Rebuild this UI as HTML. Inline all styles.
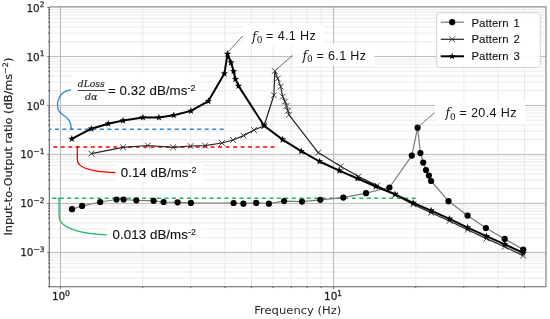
<!DOCTYPE html><html><head><meta charset="utf-8"><style>html,body{margin:0;padding:0;background:#fff;}svg{display:block}</style></head><body>
<svg width="550" height="319" viewBox="0 0 550 319">
<rect width="550" height="319" fill="#fff"/>
<path d="M49.3,286.70H546.0M49.3,278.07H546.0M49.3,271.95H546.0M49.3,267.20H546.0M49.3,263.32H546.0M49.3,260.04H546.0M49.3,257.20H546.0M49.3,254.69H546.0M49.3,237.70H546.0M49.3,229.07H546.0M49.3,222.95H546.0M49.3,218.20H546.0M49.3,214.32H546.0M49.3,211.04H546.0M49.3,208.20H546.0M49.3,205.69H546.0M49.3,188.70H546.0M49.3,180.07H546.0M49.3,173.95H546.0M49.3,169.20H546.0M49.3,165.32H546.0M49.3,162.04H546.0M49.3,159.20H546.0M49.3,156.69H546.0M49.3,139.70H546.0M49.3,131.07H546.0M49.3,124.95H546.0M49.3,120.20H546.0M49.3,116.32H546.0M49.3,113.04H546.0M49.3,110.20H546.0M49.3,107.69H546.0M49.3,90.70H546.0M49.3,82.07H546.0M49.3,75.95H546.0M49.3,71.20H546.0M49.3,67.32H546.0M49.3,64.04H546.0M49.3,61.20H546.0M49.3,58.69H546.0M49.3,41.70H546.0M49.3,33.07H546.0M49.3,26.95H546.0M49.3,22.20H546.0M49.3,18.32H546.0M49.3,15.04H546.0M49.3,12.20H546.0M49.3,9.69H546.0M142.71,6.9V286.8M190.80,6.9V286.8M224.92,6.9V286.8M251.39,6.9V286.8M273.01,6.9V286.8M291.30,6.9V286.8M307.13,6.9V286.8M321.10,6.9V286.8M415.81,6.9V286.8M463.90,6.9V286.8M498.02,6.9V286.8M524.49,6.9V286.8" stroke="#e8e8e8" stroke-width="0.9" fill="none"/>
<path d="M49.3,252.45H546.0M49.3,203.45H546.0M49.3,154.45H546.0M49.3,105.45H546.0M49.3,56.45H546.0M60.50,6.9V286.8M333.60,6.9V286.8" stroke="#b8b8b8" stroke-width="1" fill="none"/>
<rect x="71.5" y="73" width="128.9" height="28.5" fill="#fff"/>
<rect x="243" y="24.8" width="81" height="21.2" fill="#fff"/>
<rect x="292.8" y="44" width="81.69999999999999" height="21.200000000000003" fill="#fff"/>
<rect x="435" y="101.5" width="90" height="22.5" fill="#fff"/>
<rect x="115.8" y="163.7" width="86.8" height="18.600000000000023" fill="#fff"/>
<rect x="107.2" y="226" width="94.3" height="19.5" fill="#fff"/>
<path d="M49.3,129.3H223.9" stroke="#2b86d6" stroke-width="1.5" stroke-dasharray="4.0,3.49" stroke-dashoffset="1.88" fill="none"/>
<path d="M49.3,146.95H275.3" stroke="#ff0000" stroke-width="1.5" stroke-dasharray="4.0,3.49" stroke-dashoffset="3.49" fill="none"/>
<path d="M52.2,198.35H416.6" stroke="#1db964" stroke-width="1.5" stroke-dasharray="4.0,3.49" fill="none"/>
<path d="M71.2,90.2C62.5,90.4 57.3,97 57.5,106C57.8,113.5 63.5,114.5 67.5,118.5C70.5,121.5 71.2,125 71.2,129.3M69.6,129.3H73" stroke="#2b86d6" stroke-width="1.3" fill="none"/>
<path d="M77.3,146.9V159.5C77.3,168 92,172 115.3,172.6M75.7,146.9H79" stroke="#ff0000" stroke-width="1.3" fill="none"/>
<path d="M59.1,198.3V216C59.1,228 80,233.5 106.8,234.9M57.5,198.3H61" stroke="#1db964" stroke-width="1.3" fill="none"/>
<path d="M72.0,209.2 L82.1,205.9 L100.2,202.0 L116.5,199.5 L123.6,199.5 L136.3,200.3 L153.6,200.8 L163.6,202.0 L177.6,202.3 L190.9,202.9 L233.6,203.0 L243.4,203.7 L256.2,202.9 L268.9,203.7 L284.1,201.1 L302.0,201.6 L320.3,199.8 L343.3,197.6 L366.0,193.2 L389.4,187.5 L411.8,155.6 L417.6,127.7 L420.4,153.0 L423.2,162.6 L426.0,170.0 L428.9,175.6 L431.1,181.0 L448.5,201.2 L467.6,215.6 L485.9,228.1 L504.7,238.9 L523.2,249.6" stroke="#7a7a7a" stroke-width="1.2" fill="none" stroke-linejoin="round"/>
<g fill="#000"><circle cx="72" cy="209.2" r="3.1"/><circle cx="82.1" cy="205.9" r="3.1"/><circle cx="100.2" cy="202" r="3.1"/><circle cx="116.5" cy="199.5" r="3.1"/><circle cx="123.6" cy="199.5" r="3.1"/><circle cx="136.3" cy="200.3" r="3.1"/><circle cx="153.6" cy="200.8" r="3.1"/><circle cx="163.6" cy="202" r="3.1"/><circle cx="177.6" cy="202.3" r="3.1"/><circle cx="190.9" cy="202.9" r="3.1"/><circle cx="233.6" cy="203" r="3.1"/><circle cx="243.4" cy="203.7" r="3.1"/><circle cx="256.2" cy="202.9" r="3.1"/><circle cx="268.9" cy="203.7" r="3.1"/><circle cx="284.1" cy="201.1" r="3.1"/><circle cx="302" cy="201.6" r="3.1"/><circle cx="320.3" cy="199.8" r="3.1"/><circle cx="343.3" cy="197.6" r="3.1"/><circle cx="366" cy="193.2" r="3.1"/><circle cx="389.4" cy="187.5" r="3.1"/><circle cx="411.8" cy="155.6" r="3.1"/><circle cx="417.6" cy="127.7" r="3.1"/><circle cx="420.4" cy="153" r="3.1"/><circle cx="423.2" cy="162.6" r="3.1"/><circle cx="426" cy="170" r="3.1"/><circle cx="428.9" cy="175.6" r="3.1"/><circle cx="431.1" cy="181" r="3.1"/><circle cx="448.5" cy="201.2" r="3.1"/><circle cx="467.6" cy="215.6" r="3.1"/><circle cx="485.9" cy="228.1" r="3.1"/><circle cx="504.7" cy="238.9" r="3.1"/><circle cx="523.2" cy="249.6" r="3.1"/></g>
<path d="M91.3,153.6 L123.1,147.3 L147.8,145.5 L173.1,147.3 L190.6,146.0 L205.0,145.6 L222.0,143.0 L233.0,140.0 L243.6,135.6 L254.0,130.0 L264.0,126.0 L273.9,95.2 L274.8,71.0 L277.8,78.6 L280.7,86.6 L282.7,96.6 L285.0,101.6 L286.5,106.0 L287.9,110.8 L289.0,114.8 L318.2,152.6 L340.5,166.3 L358.5,176.6 L377.0,185.6 L395.0,194.8 L413.2,204.4 L431.1,212.7 L449.5,221.0 L467.6,229.8 L486.4,238.6 L504.7,246.8 L523.2,255.6" stroke="#222" stroke-width="1.2" fill="none" stroke-linejoin="round"/>
<path d="M88.40,150.70L94.20,156.50M88.40,156.50L94.20,150.70M120.20,144.40L126.00,150.20M120.20,150.20L126.00,144.40M144.90,142.60L150.70,148.40M144.90,148.40L150.70,142.60M170.20,144.40L176.00,150.20M170.20,150.20L176.00,144.40M187.70,143.10L193.50,148.90M187.70,148.90L193.50,143.10M202.10,142.70L207.90,148.50M202.10,148.50L207.90,142.70M219.10,140.10L224.90,145.90M219.10,145.90L224.90,140.10M230.10,137.10L235.90,142.90M230.10,142.90L235.90,137.10M240.70,132.70L246.50,138.50M240.70,138.50L246.50,132.70M251.10,127.10L256.90,132.90M251.10,132.90L256.90,127.10M261.10,123.10L266.90,128.90M261.10,128.90L266.90,123.10M271.00,92.30L276.80,98.10M271.00,98.10L276.80,92.30M271.90,68.10L277.70,73.90M271.90,73.90L277.70,68.10M274.90,75.70L280.70,81.50M274.90,81.50L280.70,75.70M277.80,83.70L283.60,89.50M277.80,89.50L283.60,83.70M279.80,93.70L285.60,99.50M279.80,99.50L285.60,93.70M282.10,98.70L287.90,104.50M282.10,104.50L287.90,98.70M283.60,103.10L289.40,108.90M283.60,108.90L289.40,103.10M285.00,107.90L290.80,113.70M285.00,113.70L290.80,107.90M286.10,111.90L291.90,117.70M286.10,117.70L291.90,111.90M315.30,149.70L321.10,155.50M315.30,155.50L321.10,149.70M337.60,163.40L343.40,169.20M337.60,169.20L343.40,163.40M355.60,173.70L361.40,179.50M355.60,179.50L361.40,173.70M374.10,182.70L379.90,188.50M374.10,188.50L379.90,182.70M392.10,191.90L397.90,197.70M392.10,197.70L397.90,191.90M410.30,201.50L416.10,207.30M410.30,207.30L416.10,201.50M428.20,209.80L434.00,215.60M428.20,215.60L434.00,209.80M446.60,218.10L452.40,223.90M446.60,223.90L452.40,218.10M464.70,226.90L470.50,232.70M464.70,232.70L470.50,226.90M483.50,235.70L489.30,241.50M483.50,241.50L489.30,235.70M501.80,243.90L507.60,249.70M501.80,249.70L507.60,243.90M520.30,252.70L526.10,258.50M520.30,258.50L526.10,252.70" stroke="#333" stroke-width="0.9" fill="none"/>
<path d="M71.8,138.9 L91.4,128.7 L108.2,123.7 L123.1,120.6 L142.9,117.5 L158.9,117.5 L173.8,115.3 L190.9,110.9 L208.4,101.1 L224.4,73.6 L227.5,54.0 L231.0,62.6 L233.6,71.3 L235.4,79.1 L238.5,85.9 L264.1,125.7 L282.6,139.6 L301.2,151.2 L319.6,161.5 L339.3,170.6 L357.5,178.5 L375.8,186.5 L395.0,194.3 L413.2,202.9 L431.1,210.6 L449.5,218.8 L467.6,227.6 L486.4,236.2 L504.7,244.3 L523.2,252.8" stroke="#000" stroke-width="2.0" fill="none" stroke-linejoin="round"/>
<path d="M71.80,135.10 L72.71,137.65 L75.41,137.73 L73.27,139.38 L74.03,141.97 L71.80,140.45 L69.57,141.97 L70.33,139.38 L68.19,137.73 L70.89,137.65ZM91.40,124.90 L92.31,127.45 L95.01,127.53 L92.87,129.18 L93.63,131.77 L91.40,130.25 L89.17,131.77 L89.93,129.18 L87.79,127.53 L90.49,127.45ZM108.20,119.90 L109.11,122.45 L111.81,122.53 L109.67,124.18 L110.43,126.77 L108.20,125.25 L105.97,126.77 L106.73,124.18 L104.59,122.53 L107.29,122.45ZM123.10,116.80 L124.01,119.35 L126.71,119.43 L124.57,121.08 L125.33,123.67 L123.10,122.15 L120.87,123.67 L121.63,121.08 L119.49,119.43 L122.19,119.35ZM142.90,113.70 L143.81,116.25 L146.51,116.33 L144.37,117.98 L145.13,120.57 L142.90,119.05 L140.67,120.57 L141.43,117.98 L139.29,116.33 L141.99,116.25ZM158.90,113.70 L159.81,116.25 L162.51,116.33 L160.37,117.98 L161.13,120.57 L158.90,119.05 L156.67,120.57 L157.43,117.98 L155.29,116.33 L157.99,116.25ZM173.80,111.50 L174.71,114.05 L177.41,114.13 L175.27,115.78 L176.03,118.37 L173.80,116.85 L171.57,118.37 L172.33,115.78 L170.19,114.13 L172.89,114.05ZM190.90,107.10 L191.81,109.65 L194.51,109.73 L192.37,111.38 L193.13,113.97 L190.90,112.45 L188.67,113.97 L189.43,111.38 L187.29,109.73 L189.99,109.65ZM208.40,97.30 L209.31,99.85 L212.01,99.93 L209.87,101.58 L210.63,104.17 L208.40,102.65 L206.17,104.17 L206.93,101.58 L204.79,99.93 L207.49,99.85ZM224.40,69.80 L225.31,72.35 L228.01,72.43 L225.87,74.08 L226.63,76.67 L224.40,75.15 L222.17,76.67 L222.93,74.08 L220.79,72.43 L223.49,72.35ZM227.50,50.20 L228.41,52.75 L231.11,52.83 L228.97,54.48 L229.73,57.07 L227.50,55.55 L225.27,57.07 L226.03,54.48 L223.89,52.83 L226.59,52.75ZM231.00,58.80 L231.91,61.35 L234.61,61.43 L232.47,63.08 L233.23,65.67 L231.00,64.15 L228.77,65.67 L229.53,63.08 L227.39,61.43 L230.09,61.35ZM233.60,67.50 L234.51,70.05 L237.21,70.13 L235.07,71.78 L235.83,74.37 L233.60,72.85 L231.37,74.37 L232.13,71.78 L229.99,70.13 L232.69,70.05ZM235.40,75.30 L236.31,77.85 L239.01,77.93 L236.87,79.58 L237.63,82.17 L235.40,80.65 L233.17,82.17 L233.93,79.58 L231.79,77.93 L234.49,77.85ZM238.50,82.10 L239.41,84.65 L242.11,84.73 L239.97,86.38 L240.73,88.97 L238.50,87.45 L236.27,88.97 L237.03,86.38 L234.89,84.73 L237.59,84.65ZM264.10,121.90 L265.01,124.45 L267.71,124.53 L265.57,126.18 L266.33,128.77 L264.10,127.25 L261.87,128.77 L262.63,126.18 L260.49,124.53 L263.19,124.45ZM282.60,135.80 L283.51,138.35 L286.21,138.43 L284.07,140.08 L284.83,142.67 L282.60,141.15 L280.37,142.67 L281.13,140.08 L278.99,138.43 L281.69,138.35ZM301.20,147.40 L302.11,149.95 L304.81,150.03 L302.67,151.68 L303.43,154.27 L301.20,152.75 L298.97,154.27 L299.73,151.68 L297.59,150.03 L300.29,149.95ZM319.60,157.70 L320.51,160.25 L323.21,160.33 L321.07,161.98 L321.83,164.57 L319.60,163.05 L317.37,164.57 L318.13,161.98 L315.99,160.33 L318.69,160.25ZM339.30,166.80 L340.21,169.35 L342.91,169.43 L340.77,171.08 L341.53,173.67 L339.30,172.15 L337.07,173.67 L337.83,171.08 L335.69,169.43 L338.39,169.35ZM357.50,174.70 L358.41,177.25 L361.11,177.33 L358.97,178.98 L359.73,181.57 L357.50,180.05 L355.27,181.57 L356.03,178.98 L353.89,177.33 L356.59,177.25ZM375.80,182.70 L376.71,185.25 L379.41,185.33 L377.27,186.98 L378.03,189.57 L375.80,188.05 L373.57,189.57 L374.33,186.98 L372.19,185.33 L374.89,185.25ZM395.00,190.50 L395.91,193.05 L398.61,193.13 L396.47,194.78 L397.23,197.37 L395.00,195.85 L392.77,197.37 L393.53,194.78 L391.39,193.13 L394.09,193.05ZM413.20,199.10 L414.11,201.65 L416.81,201.73 L414.67,203.38 L415.43,205.97 L413.20,204.45 L410.97,205.97 L411.73,203.38 L409.59,201.73 L412.29,201.65ZM431.10,206.80 L432.01,209.35 L434.71,209.43 L432.57,211.08 L433.33,213.67 L431.10,212.15 L428.87,213.67 L429.63,211.08 L427.49,209.43 L430.19,209.35ZM449.50,215.00 L450.41,217.55 L453.11,217.63 L450.97,219.28 L451.73,221.87 L449.50,220.35 L447.27,221.87 L448.03,219.28 L445.89,217.63 L448.59,217.55ZM467.60,223.80 L468.51,226.35 L471.21,226.43 L469.07,228.08 L469.83,230.67 L467.60,229.15 L465.37,230.67 L466.13,228.08 L463.99,226.43 L466.69,226.35ZM486.40,232.40 L487.31,234.95 L490.01,235.03 L487.87,236.68 L488.63,239.27 L486.40,237.75 L484.17,239.27 L484.93,236.68 L482.79,235.03 L485.49,234.95ZM504.70,240.50 L505.61,243.05 L508.31,243.13 L506.17,244.78 L506.93,247.37 L504.70,245.85 L502.47,247.37 L503.23,244.78 L501.09,243.13 L503.79,243.05ZM523.20,249.00 L524.11,251.55 L526.81,251.63 L524.67,253.28 L525.43,255.87 L523.20,254.35 L520.97,255.87 L521.73,253.28 L519.59,251.63 L522.29,251.55Z" fill="#000"/>
<path d="M227.5,52.5L242.7,36M275.2,70.5L292.6,55.4M418,127L434.5,112.7" stroke="#555" stroke-width="0.8" fill="none"/>
<path d="M49.3,252.45h-2M49.3,203.45h-2M49.3,154.45h-2M49.3,105.45h-2M49.3,56.45h-2M49.3,7.45h-2M49.3,286.70h-1.3M49.3,278.07h-1.3M49.3,271.95h-1.3M49.3,267.20h-1.3M49.3,263.32h-1.3M49.3,260.04h-1.3M49.3,257.20h-1.3M49.3,254.69h-1.3M49.3,237.70h-1.3M49.3,229.07h-1.3M49.3,222.95h-1.3M49.3,218.20h-1.3M49.3,214.32h-1.3M49.3,211.04h-1.3M49.3,208.20h-1.3M49.3,205.69h-1.3M49.3,188.70h-1.3M49.3,180.07h-1.3M49.3,173.95h-1.3M49.3,169.20h-1.3M49.3,165.32h-1.3M49.3,162.04h-1.3M49.3,159.20h-1.3M49.3,156.69h-1.3M49.3,139.70h-1.3M49.3,131.07h-1.3M49.3,124.95h-1.3M49.3,120.20h-1.3M49.3,116.32h-1.3M49.3,113.04h-1.3M49.3,110.20h-1.3M49.3,107.69h-1.3M49.3,90.70h-1.3M49.3,82.07h-1.3M49.3,75.95h-1.3M49.3,71.20h-1.3M49.3,67.32h-1.3M49.3,64.04h-1.3M49.3,61.20h-1.3M49.3,58.69h-1.3M49.3,41.70h-1.3M49.3,33.07h-1.3M49.3,26.95h-1.3M49.3,22.20h-1.3M49.3,18.32h-1.3M49.3,15.04h-1.3M49.3,12.20h-1.3M49.3,9.69h-1.3M60.50,286.8v2M333.60,286.8v2M142.71,286.8v1.3M190.80,286.8v1.3M224.92,286.8v1.3M251.39,286.8v1.3M273.01,286.8v1.3M291.30,286.8v1.3M307.13,286.8v1.3M321.10,286.8v1.3M415.81,286.8v1.3M463.90,286.8v1.3M498.02,286.8v1.3M524.49,286.8v1.3" stroke="#333" stroke-width="0.8" fill="none"/>
<path d="M49.3,6.9H546.0V286.8" stroke="#8e8e8e" stroke-width="1.3" fill="none"/>
<path d="M546.0,286.8H49.3V6.9" stroke="#666" stroke-width="1.1" fill="none"/>
<text x="44.6" y="256.4" font-family="DejaVu Sans, Liberation Sans, sans-serif" font-size="10.5" text-anchor="end" fill="#262626" stroke="#262626" stroke-width="0.25">10<tspan dy="-4.1" font-size="7.5">−3</tspan></text>
<text x="44.6" y="207.4" font-family="DejaVu Sans, Liberation Sans, sans-serif" font-size="10.5" text-anchor="end" fill="#262626" stroke="#262626" stroke-width="0.25">10<tspan dy="-4.1" font-size="7.5">−2</tspan></text>
<text x="44.6" y="158.4" font-family="DejaVu Sans, Liberation Sans, sans-serif" font-size="10.5" text-anchor="end" fill="#262626" stroke="#262626" stroke-width="0.25">10<tspan dy="-4.1" font-size="7.5">−1</tspan></text>
<text x="44.6" y="109.5" font-family="DejaVu Sans, Liberation Sans, sans-serif" font-size="10.5" text-anchor="end" fill="#262626" stroke="#262626" stroke-width="0.25">10<tspan dy="-4.1" font-size="7.5">0</tspan></text>
<text x="44.6" y="60.5" font-family="DejaVu Sans, Liberation Sans, sans-serif" font-size="10.5" text-anchor="end" fill="#262626" stroke="#262626" stroke-width="0.25">10<tspan dy="-4.1" font-size="7.5">1</tspan></text>
<text x="44.6" y="11.5" font-family="DejaVu Sans, Liberation Sans, sans-serif" font-size="10.5" text-anchor="end" fill="#262626" stroke="#262626" stroke-width="0.25">10<tspan dy="-4.1" font-size="7.5">2</tspan></text>
<text x="60.9" y="300.0" font-family="DejaVu Sans, Liberation Sans, sans-serif" font-size="10.5" text-anchor="middle" fill="#262626" stroke="#262626" stroke-width="0.3">10<tspan dx="-0.3" dy="-3.7" font-size="7.8">0</tspan></text>
<text x="333.0" y="300.0" font-family="DejaVu Sans, Liberation Sans, sans-serif" font-size="10.5" text-anchor="middle" fill="#262626" stroke="#262626" stroke-width="0.3">10<tspan dx="-0.3" dy="-3.7" font-size="7.8">1</tspan></text>
<text x="297.8" y="313.5" font-family="DejaVu Sans, Liberation Sans, sans-serif" font-size="10.5" text-anchor="middle" fill="#262626" textLength="87.2" lengthAdjust="spacingAndGlyphs">Frequency (Hz)</text>
<text transform="translate(12.4,146.6) rotate(-90)" font-family="DejaVu Sans, Liberation Sans, sans-serif" font-size="10.5" text-anchor="middle" fill="#262626" stroke="#262626" stroke-width="0.2" textLength="178" lengthAdjust="spacingAndGlyphs">Input-to-Output ratio (dB/ms<tspan dy="-4" font-size="7.5">−2</tspan><tspan dy="4">)</tspan></text>
<rect x="436.7" y="12.7" width="103.6" height="54.7" rx="2.5" fill="#fff" fill-opacity="0.93" stroke="#d0d0d0" stroke-width="0.9"/>
<path d="M440.7,22.2H464" stroke="#7a7a7a" stroke-width="1.2"/><circle cx="452.2" cy="22.2" r="3.1" fill="#000"/>
<path d="M440.7,39.3H464" stroke="#222" stroke-width="1.2"/><path d="M449.30,36.40L455.10,42.20M449.30,42.20L455.10,36.40" stroke="#333" stroke-width="0.9"/>
<path d="M440.7,56.3H464" stroke="#000" stroke-width="2.0"/><path d="M452.20,52.70 L453.05,55.13 L455.62,55.19 L453.58,56.75 L454.32,59.21 L452.20,57.75 L450.08,59.21 L450.82,56.75 L448.78,55.19 L451.35,55.13Z" fill="#000"/>
<text x="471.4" y="26.6" font-family="Liberation Sans, Arial, sans-serif" font-size="11.3" letter-spacing="0.12" fill="#111" stroke="#111" stroke-width="0.1">Pattern</text>
<text x="513.5" y="26.6" font-family="Liberation Sans, Arial, sans-serif" font-size="11.3" fill="#111" stroke="#111" stroke-width="0.1">1</text>
<text x="471.4" y="43.1" font-family="Liberation Sans, Arial, sans-serif" font-size="11.3" letter-spacing="0.12" fill="#111" stroke="#111" stroke-width="0.1">Pattern</text>
<text x="513.5" y="43.1" font-family="Liberation Sans, Arial, sans-serif" font-size="11.3" fill="#111" stroke="#111" stroke-width="0.1">2</text>
<text x="471.4" y="60.3" font-family="Liberation Sans, Arial, sans-serif" font-size="11.3" letter-spacing="0.12" fill="#111" stroke="#111" stroke-width="0.1">Pattern</text>
<text x="513.5" y="60.3" font-family="Liberation Sans, Arial, sans-serif" font-size="11.3" fill="#111" stroke="#111" stroke-width="0.1">3</text>
<text x="302.40000000000003" y="59.900000000000006" font-family="DejaVu Serif, serif" font-style="italic" font-size="12.3" fill="#111">f</text>
<text x="307.1" y="62.400000000000006" font-family="DejaVu Serif, serif" font-size="9" fill="#111">0</text>
<text x="316.40000000000003" y="59.7" font-family="Liberation Sans, Arial, sans-serif" font-size="12.6" letter-spacing="0.35" fill="#111">= 6.1 Hz</text>
<text x="252.1" y="40.6" font-family="DejaVu Serif, serif" font-style="italic" font-size="12.3" fill="#111">f</text>
<text x="256.8" y="43.1" font-family="DejaVu Serif, serif" font-size="9" fill="#111">0</text>
<text x="266.1" y="40.4" font-family="Liberation Sans, Arial, sans-serif" font-size="12.6" letter-spacing="0.35" fill="#111">= 4.1 Hz</text>
<text x="445.40000000000003" y="117.0" font-family="DejaVu Serif, serif" font-style="italic" font-size="12.3" fill="#111">f</text>
<text x="450.1" y="119.5" font-family="DejaVu Serif, serif" font-size="9" fill="#111">0</text>
<text x="459.40000000000003" y="116.8" font-family="Liberation Sans, Arial, sans-serif" font-size="12.6" letter-spacing="0.35" fill="#111">= 20.4 Hz</text>
<text x="91.3" y="87.2" font-family="DejaVu Serif, serif" font-style="italic" font-size="9.2" text-anchor="middle" fill="#222" stroke="#222" stroke-width="0.15">dLoss</text>
<path d="M77.5,90.5H105.2" stroke="#333" stroke-width="0.9"/>
<text x="91.2" y="100.4" font-family="DejaVu Serif, serif" font-style="italic" font-size="9.6" text-anchor="middle" fill="#222" stroke="#222" stroke-width="0.15">dα</text>
<text x="108" y="94.9" font-family="Liberation Sans, Arial, sans-serif" font-size="13.3" letter-spacing="0.06" fill="#111" stroke="#111" stroke-width="0.12">= 0.32 dB/ms<tspan dy="-4.3" font-size="8.8">-2</tspan></text>
<text x="120.7" y="177.1" font-family="Liberation Sans, Arial, sans-serif" font-size="13.3" letter-spacing="0.06" fill="#111" stroke="#111" stroke-width="0.12">0.14 dB/ms<tspan dy="-4.3" font-size="8.8">-2</tspan></text>
<text x="112.6" y="239.0" font-family="Liberation Sans, Arial, sans-serif" font-size="13.3" letter-spacing="0.06" fill="#111" stroke="#111" stroke-width="0.12">0.013 dB/ms<tspan dy="-4.3" font-size="8.8">-2</tspan></text>
</svg></body></html>
